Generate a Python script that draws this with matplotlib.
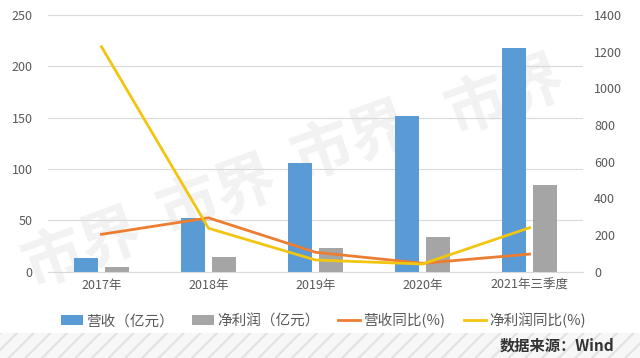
import matplotlib.pyplot as plt
import numpy as np
from matplotlib.patches import Rectangle

plt.rcParams['font.family'] = ['Noto Sans CJK SC', 'DejaVu Sans']
plt.rcParams['hatch.linewidth'] = 1.5

categories = ['2017年', '2018年', '2019年', '2020年', '2021年三季度']
revenue = [13.6, 52.6, 106.2, 152.0, 218.3]       # 营收（亿元）
net_profit = [4.9, 14.6, 23.0, 33.5, 84.2]        # 净利润（亿元）
revenue_yoy = [204, 294, 106, 46, 96]             # 营收同比(%)
profit_yoy = [1227, 237, 64, 42, 240]             # 净利润同比(%)

fig = plt.figure(figsize=(6.4, 3.58), dpi=100)
ax = fig.add_axes([0.075, 0.241, 0.836, 0.717])
ax2 = ax.twinx()

# watermark, behind the axes
for wx, wy in [(0.13, 0.30), (0.34, 0.45), (0.55, 0.60), (0.79, 0.73)]:
    fig.text(wx, wy, '市界', fontsize=44, color='#f2f2f2', rotation=20,
             fontweight='bold', ha='center', va='center', zorder=-1)

x = np.arange(len(categories))
w = 0.22
ax.bar(x - 0.145, revenue, w, color='#5B9BD5', label='营收（亿元）', zorder=2)
ax.bar(x + 0.145, net_profit, w, color='#A5A5A5', label='净利润（亿元）', zorder=2)
ax2.plot(x, revenue_yoy, color='#ED7D31', lw=2, label='营收同比(%)')
ax2.plot(x, profit_yoy, color='#F2C511', lw=2, label='净利润同比(%)')

ax.set_xlim(-0.5, 4.5)
ax.set_ylim(0, 250)
ax2.set_ylim(0, 1400)
ax.set_yticks(range(0, 251, 50))
ax2.set_yticks(range(0, 1401, 200))
ax.set_xticks(x)
ax.set_xticklabels(categories)
ax.grid(axis='y', color='#d9d9d9', lw=0.8, zorder=0)
ax.set_axisbelow(True)
for a in (ax, ax2):
    for s in a.spines.values():
        s.set_visible(False)
    a.tick_params(length=0, labelsize=9, colors='#595959')
ax.spines['bottom'].set_visible(True)
ax.spines['bottom'].set_color('#d9d9d9')
ax.tick_params(axis='x', pad=5)
ax.tick_params(axis='y', pad=11)
ax2.tick_params(axis='y', pad=8)
ax.patch.set_alpha(0)

h1, l1 = ax.get_legend_handles_labels()
h2, l2 = ax2.get_legend_handles_labels()
fig.legend(h1 + h2, l1 + l2, loc='center', bbox_to_anchor=(0.505, 0.105), ncol=4,
           frameon=False, fontsize=10.5, handlelength=1.5, handletextpad=0.2,
           columnspacing=1.3, labelcolor='#595959')

# source band with diagonal stripes
band = Rectangle((0, 0), 1, 25 / 358, transform=fig.transFigure, facecolor='#f7f7f7',
                 edgecolor='#e2e2e2', linewidth=0, hatch='//', zorder=0)
fig.patches.append(band)
fig.text(0.96, 12 / 358, '数据来源：Wind', ha='right', va='center', fontsize=11,
         fontweight='bold', color='#333333')

fig.savefig('out.png', dpi=100)
